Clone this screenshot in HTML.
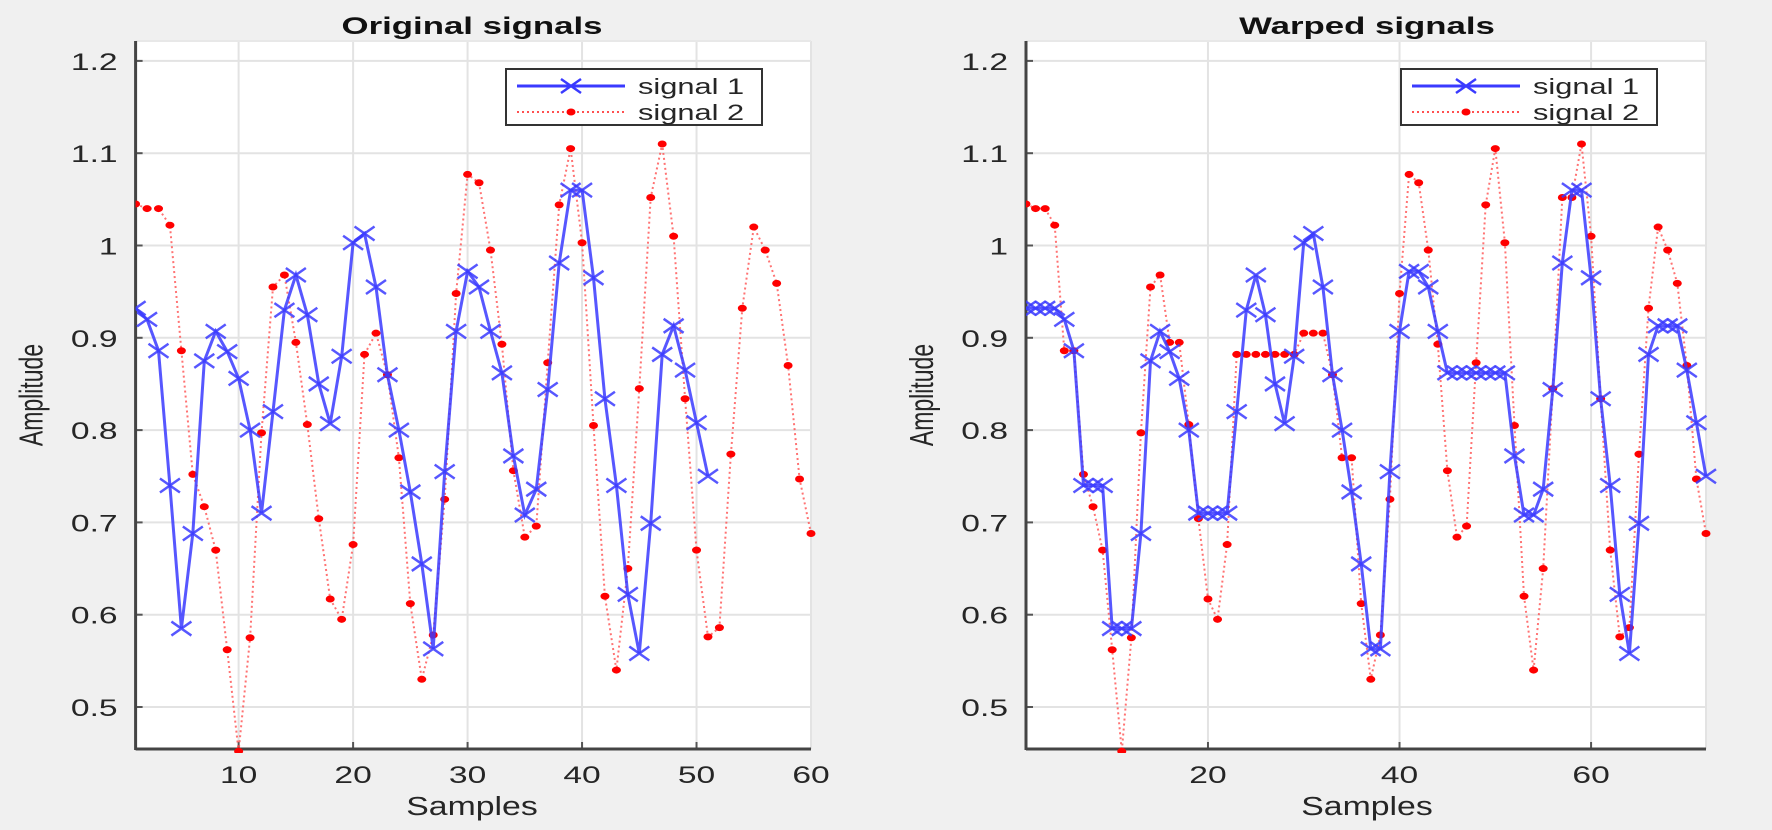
<!DOCTYPE html>
<html><head><meta charset="utf-8"><style>
html,body{margin:0;padding:0;background:#f0f0f0;}
svg{display:block;font-family:"Liberation Sans",sans-serif;}
</style></head><body>
<svg id="s" width="1772" height="830" xmlns="http://www.w3.org/2000/svg">
<rect width="1772" height="830" fill="#f0f0f0"/>
</svg>
<script>
const S=document.getElementById('s');
let h='';
const s1=[0.932,0.92,0.886,0.74,0.585,0.688,0.875,0.907,0.885,0.856,0.80,0.71,0.82,0.93,0.968,0.925,0.85,0.807,0.88,1.003,1.013,0.955,0.86,0.80,0.733,0.655,0.563,0.755,0.907,0.972,0.955,0.907,0.862,0.772,0.708,0.736,0.844,0.981,1.06,1.06,0.965,0.834,0.74,0.622,0.558,0.699,0.882,0.913,0.865,0.808,0.75];
const s2=[1.045,1.04,1.04,1.022,0.886,0.752,0.717,0.67,0.562,0.452,0.575,0.797,0.955,0.968,0.895,0.806,0.704,0.617,0.595,0.676,0.882,0.905,0.86,0.77,0.612,0.53,0.578,0.725,0.948,1.077,1.068,0.995,0.893,0.756,0.684,0.696,0.873,1.044,1.105,1.003,0.805,0.62,0.54,0.65,0.845,1.052,1.11,1.01,0.834,0.67,0.576,0.586,0.774,0.932,1.02,0.995,0.959,0.87,0.747,0.688];
const path=[[1,1],[1,2],[1,3],[1,4],[2,5],[3,5],[4,6],[4,7],[4,8],[5,9],[5,10],[5,11],[6,12],[7,13],[8,14],[9,15],[10,15],[11,16],[12,17],[12,18],[12,19],[12,20],[13,21],[14,21],[15,21],[16,21],[17,21],[18,21],[19,21],[20,22],[21,22],[22,22],[23,23],[24,24],[25,24],[26,25],[27,26],[27,27],[28,28],[29,29],[30,30],[30,31],[31,32],[32,33],[33,34],[33,35],[33,36],[33,37],[33,38],[33,39],[33,40],[34,41],[35,42],[35,43],[36,44],[37,45],[38,46],[39,46],[40,47],[41,48],[42,49],[43,50],[44,51],[45,52],[46,53],[47,54],[48,55],[48,56],[48,57],[49,58],[50,59],[51,60]];
const w1=path.map(p=>s1[p[0]-1]), w2=path.map(p=>s2[p[1]-1]);
const Y=v=>60.9+(1.2-v)*923, T=41, B=749;
function txt(x,y,str,size,anchor,sx,weight,col){
  h+=`<text transform="translate(${x},${y}) scale(${sx},1)" text-anchor="${anchor}" font-size="${size}" font-weight="${weight||'normal'}" fill="${col||'#262626'}">${str}</text>`;
}
function panel(x0,x1,xmax,xt,title,d1,d2,cx){
  const X=v=>x0+(v-1)*(x1-x0)/(xmax-1);
  h+=`<rect x="${x0}" y="${T}" width="${x1-x0}" height="${B-T}" fill="#fff"/>`;
  for(let v=0.5;v<=1.21;v+=0.1){const y=Y(v);h+=`<line x1="${x0}" x2="${x1}" y1="${y}" y2="${y}" stroke="#e3e3e3" stroke-width="2"/>`;
    h+=`<line x1="${x0}" x2="${x0+7}" y1="${y}" y2="${y}" stroke="#555" stroke-width="2"/>`;
    txt(x0-18,y+9,(Math.round(v*10)/10).toString(),24,'end',1.4);}
  xt.forEach(v=>{const x=X(v);h+=`<line x1="${x}" x2="${x}" y1="${T}" y2="${B}" stroke="#e3e3e3" stroke-width="2"/>`;
    h+=`<line x1="${x}" x2="${x}" y1="${B}" y2="${B-7}" stroke="#555" stroke-width="2"/>`;
    txt(x,783,v,24,'middle',1.4);});
  h+=`<line x1="${x1}" x2="${x1}" y1="${T}" y2="${B}" stroke="#e3e3e3" stroke-width="2"/><line x1="${x0}" x2="${x1}" y1="${T}" y2="${T}" stroke="#e8e8e8" stroke-width="2"/>`;
  h+=`<line x1="${x0}" x2="${x0}" y1="${T}" y2="${B+1}" stroke="#444" stroke-width="3"/><line x1="${x0}" x2="${x1}" y1="${B}" y2="${B}" stroke="#444" stroke-width="3"/>`;
  h+=`<clipPath id="c${x0}"><rect x="${x0}" y="${T-10}" width="${x1-x0+12}" height="${B-T+14}"/></clipPath><g clip-path="url(#c${x0})">`;
  let p=d2.map((v,i)=>X(i+1).toFixed(1)+','+Y(v).toFixed(1)).join(' ');
  h+=`<polyline points="${p}" fill="none" stroke="#ff5050" stroke-width="2" stroke-dasharray="2,3" opacity="0.8"/>`;
  d2.forEach((v,i)=>{h+=`<ellipse cx="${X(i+1)}" cy="${Y(v)}" rx="4.5" ry="3.5" fill="#f00"/>`;});
  p=d1.map((v,i)=>X(i+1).toFixed(1)+','+Y(v).toFixed(1)).join(' ');
  h+=`<polyline points="${p}" fill="none" stroke="#3a3aff" stroke-width="3" opacity="0.85"/>`;
  d1.forEach((v,i)=>{const x=X(i+1),y=Y(v);h+=`<path d="M${x-10},${y-7}L${x+10},${y+7}M${x-10},${y+7}L${x+10},${y-7}" stroke="#3a3aff" stroke-width="2.5" opacity="0.85"/>`;});
  h+=`</g>`;
  txt(cx,34,title,24,'middle',1.45,'bold','#111');
  txt(cx,815,'Samples',26,'middle',1.3);
  h+=`<text transform="translate(${x0-93},395) rotate(-90) scale(1,1.45)" text-anchor="middle" font-size="23" fill="#262626">Amplitude</text>`;
  const lx=x1-305,ly=69;
  h+=`<rect x="${lx}" y="${ly}" width="256" height="56" fill="#fff" stroke="#333" stroke-width="2"/>`;
  h+=`<line x1="${lx+11}" x2="${lx+119}" y1="${ly+17}" y2="${ly+17}" stroke="#3a3aff" stroke-width="3"/><path d="M${lx+55},${ly+10}L${lx+75},${ly+24}M${lx+55},${ly+24}L${lx+75},${ly+10}" stroke="#3a3aff" stroke-width="2.5"/>`;
  h+=`<line x1="${lx+11}" x2="${lx+119}" y1="${ly+43}" y2="${ly+43}" stroke="#ff5050" stroke-width="2" stroke-dasharray="2,3"/><ellipse cx="${lx+65}" cy="${ly+43}" rx="4.5" ry="3.5" fill="#f00"/>`;
  txt(lx+132,ly+25,'signal 1',22,'start',1.4);
  txt(lx+132,ly+51,'signal 2',22,'start',1.4);
}
panel(135.6,811,60,[10,20,30,40,50,60],'Original signals',s1,s2,472);
panel(1026,1706,72,[20,40,60],'Warped signals',w1,w2,1367);
S.insertAdjacentHTML('beforeend',h);
</script>
</body></html>
